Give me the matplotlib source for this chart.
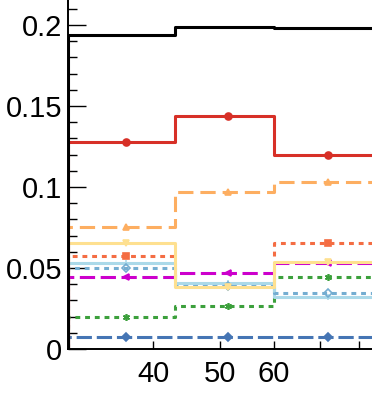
import numpy as np
import matplotlib
matplotlib.use("Agg")
import matplotlib.pyplot as plt
from matplotlib.ticker import FixedLocator, FixedFormatter, MultipleLocator, NullLocator

plt.rcParams["font.family"] = ["Liberation Sans", "DejaVu Sans"]
plt.rcParams["lines.scale_dashes"] = False

# bin edges (x) and per-series bin contents
edges = [30, 43, 60, 84]
black = [0.1938, 0.1986, 0.1980]
red = [0.1280, 0.1436, 0.1198]
lt_orange = [0.0755, 0.0971, 0.1029]
yellow = [0.0652, 0.0385, 0.0537]
orange_red = [0.0574, np.nan, 0.0652]
blue_dot = [0.0502, 0.0391, 0.0348]
blue_solid = [0.0533, 0.0410, 0.0319]
magenta = [0.0446, 0.0467, 0.0529]
green = [0.0200, 0.0265, 0.0442]
dark_blue = [0.0076, 0.0076, 0.0076]

series = [
    # values, colour, dashes (pt), marker, marker size, filled
    (dark_blue, "#4575b4", (11, 3.5), "D", 4.5, True),
    (green, "#3ca03c", (3.5, 3.5), (6, 2, 0), 5, True),
    (magenta, "#cc00cc", (11, 4), "<", 5, True),
    (blue_solid, "#abd9e9", None, "|", 5, True),
    (blue_dot, "#74add1", (3.5, 3.5), "D", 4, False),
    (orange_red, "#f46d43", (3.5, 3.5), "s", 5, True),
    (yellow, "#fee090", None, "v", 5, True),
    (lt_orange, "#fdae61", (11, 5), "^", 5, True),
    (red, "#d73027", None, "o", 5, True),
    (black, "black", None, None, 0, True),
]

fig = plt.figure(figsize=(3.72, 4.20), dpi=100)
ax = fig.add_axes([68 / 372, 71 / 420, 304 / 372, 349 / 420])

centers = [(edges[i] + edges[i + 1]) / 2 for i in range(len(edges) - 1)]

for vals, col, dash, mk, ms, filled in series:
    xs, ys = [edges[0]], [0.0]
    prev = 0.0
    for i, v in enumerate(vals):
        if np.isnan(v):
            xs += [np.nan]
            ys += [np.nan]
            continue
        xs += [edges[i], edges[i], edges[i + 1]]
        ys += [prev, v, v]
        prev = v
    line, = ax.plot(xs, ys, color=col, lw=2.2, solid_capstyle="butt")
    if dash is not None:
        line.set_dashes(dash)
    if mk is not None:
        ax.plot(centers, vals, ls="none", marker=mk, ms=ms, color=col,
                mfc=col if filled else "none", mec=col, mew=1.2)

ax.set_xscale("log")
ax.set_xlim(30, 83.5)
ax.set_ylim(0, 0.2154)

ax.xaxis.set_major_locator(FixedLocator([40, 50, 60, 70, 80]))
ax.xaxis.set_major_formatter(FixedFormatter(["40", "50", "60", "", ""]))
ax.xaxis.set_minor_locator(NullLocator())
ax.yaxis.set_major_locator(FixedLocator([0, 0.05, 0.1, 0.15, 0.2]))
ax.yaxis.set_major_formatter(FixedFormatter(["0", "0.05", "0.1", "0.15", "0.2"]))
ax.yaxis.set_minor_locator(MultipleLocator(0.01))

ax.tick_params(axis="x", which="both", direction="in", length=5.8, width=1,
               labelsize=21, pad=8, top=False)
ax.tick_params(axis="y", which="major", direction="in", length=13, width=1,
               labelsize=21, pad=4, right=False)
ax.tick_params(axis="y", which="minor", direction="in", length=6.5, width=1,
               right=False)

for s in ["top", "right"]:
    ax.spines[s].set_visible(False)
for s in ["left", "bottom"]:
    ax.spines[s].set_linewidth(1.4)

fig.savefig("out.png", dpi=100)
